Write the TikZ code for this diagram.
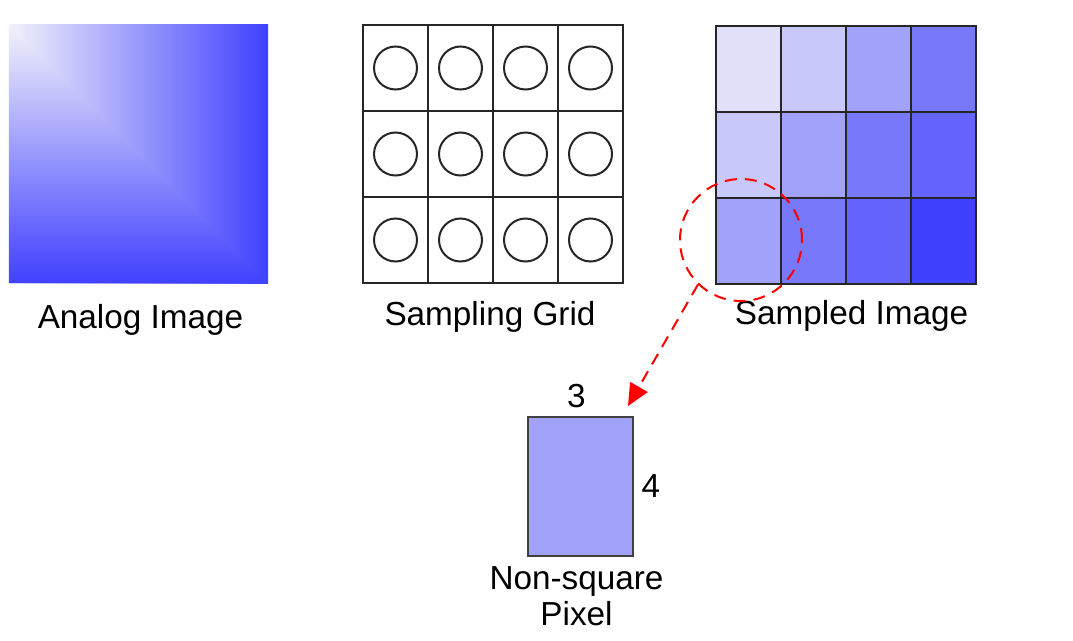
\documentclass[tikz,border=0pt]{standalone}
\usepackage{fontspec}
\setmainfont{Liberation Sans}
\usetikzlibrary{positioning,arrows.meta}
\definecolor{analogA}{RGB}{242,242,250}
\definecolor{analogB}{RGB}{64,64,255}
\definecolor{lev0}{RGB}{224,224,248}
\definecolor{lev1}{RGB}{200,200,250}
\definecolor{lev2}{RGB}{162,162,250}
\definecolor{lev3}{RGB}{120,120,250}
\definecolor{lev4}{RGB}{100,100,250}
\definecolor{lev5}{RGB}{64,64,255}
\begin{document}
\begin{tikzpicture}[x=1pt,y=-1pt,font=\fontsize{33.3}{36}\selectfont,
    panel/.style={minimum width=259pt,minimum height=258pt,inner sep=0pt},
    cell/.style={draw=black!85,line width=2pt,minimum width=65pt,minimum height=86pt,inner sep=0pt}]
    \useasboundingbox (0,0) rectangle (1073,640);
    % analog image
    \node[panel] (analog) at (138.5,154) {};
    \shade[left color=analogA,right color=analogB] (analog.north west) rectangle (analog.south east);
    \shade[top color=analogA,bottom color=analogB] (analog.north west) -- (analog.south west) -- (analog.south east) -- cycle;
    \node[below=18pt of analog,xshift=2pt] (analog-label) {Analog Image};
    % sampling grid
    \node[panel] (grid) at (493,154) {};
    \foreach \r in {0,1,2}
        \foreach \c in {0,...,3} {
            \node[cell] (grid-\r-\c) at ({395.5+65*\c},{68+86*\r}) {};
            \draw[line width=2pt,black!85] (grid-\r-\c.center) circle (21.5pt);
        }
    \node[below=15pt of grid,xshift=-3pt] (grid-label) {Sampling Grid};
    % sampled image
    \node[panel] (sampled) at (845.5,155) {};
    \foreach \r in {0,1,2}
        \foreach \c in {0,...,3} {
            \pgfmathtruncatemacro\lev{\r+\c}
            \node[cell,fill=lev\lev] (samp-\r-\c) at ({748.5+65*\c},{68.5+86*\r}) {};
        }
    \node[below=13pt of sampled,xshift=6pt] (sampled-label) {Sampled Image};
    % one pixel
    \node[draw=red,dash pattern=on 12pt off 8pt,line width=2pt,circle,minimum size=122pt] (zoom) at (741,240) {};
    \node[draw=black!75,fill=lev2,line width=2pt,minimum width=105pt,minimum height=139pt] (pixel) at (580.5,486.5) {};
    \node[above=5pt of pixel,xshift=-4pt] (width) {3};
    \node[right=4pt of pixel] (height) {4};
    \node[below=6pt of pixel,xshift=-4pt,align=center] (pixel-label) {Non-square\\Pixel};
    \draw[red,line width=2pt,dash pattern=on 12pt off 8pt,-{Triangle[length=22pt,width=20pt]}] (zoom.-134) -- ([xshift=-6pt,yshift=10pt]pixel.north east);
\end{tikzpicture}
\end{document}
